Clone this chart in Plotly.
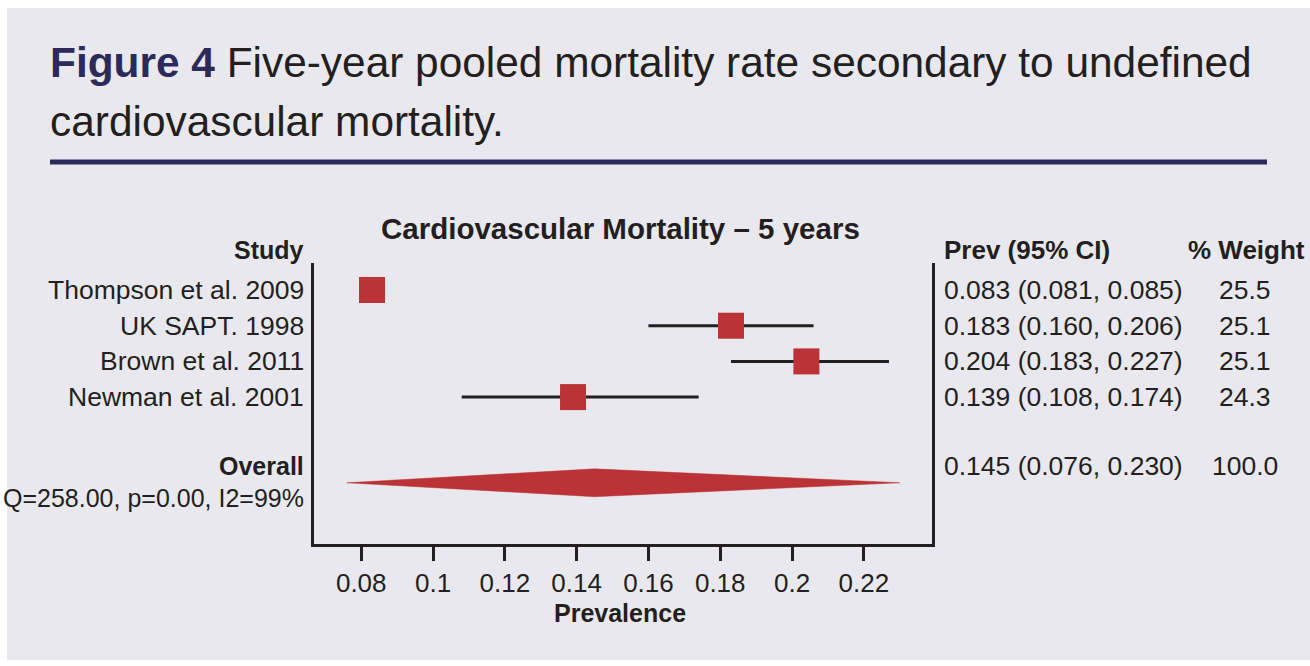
import plotly.graph_objects as go

studies = ["Thompson et al. 2009", "UK SAPT. 1998", "Brown et al. 2011", "Newman et al. 2001"]
prev = [0.083, 0.183, 0.204, 0.139]
lo = [0.081, 0.160, 0.183, 0.108]
hi = [0.085, 0.206, 0.227, 0.174]
weight = ["25.5", "25.1", "25.1", "24.3"]
overall_prev = 0.145
overall_lo = 0.076
overall_hi = 0.230
overall_weight = "100.0"
het_text = "Q=258.00, p=0.00, I2=99%"
x_ticks = [0.08, 0.10, 0.12, 0.14, 0.16, 0.18, 0.20, 0.22]
x_ticklabels = ["0.08", "0.1", "0.12", "0.14", "0.16", "0.18", "0.2", "0.22"]

W, H = 1310, 666
L, R, T, B = 314, 932, 263, 544
RED = "#bb3237"
NAVY = "#2c2a5a"
INK = "#231f20"
BG = "#e9e8ee"
FONT = "Liberation Sans, Arial, sans-serif"

rows = list(range(len(studies)))
overall_row = 5.4
overall_label_row = 4.93
het_row = 5.83


def px(x):
    return (x - L) / (R - L)


def py(y):
    return 1 - (y - T) / (B - T)


fig = go.Figure()

# confidence intervals + squares
fig.add_trace(go.Scatter(
    x=prev, y=rows, mode="markers",
    marker=dict(symbol="square", size=26, color=RED, line=dict(width=0)),
    error_x=dict(type="data", symmetric=False,
                 array=[h - p for h, p in zip(hi, prev)],
                 arrayminus=[p - l for p, l in zip(prev, lo)],
                 color=INK, thickness=3, width=0),
    hoverinfo="skip", showlegend=False,
))

# overall diamond
dh = 0.39
fig.add_trace(go.Scatter(
    x=[overall_lo, overall_prev, overall_hi, overall_prev, overall_lo],
    y=[overall_row, overall_row - dh, overall_row, overall_row + dh, overall_row],
    mode="lines", fill="toself", fillcolor=RED, line=dict(color=RED, width=0.5),
    hoverinfo="skip", showlegend=False,
))

fig.add_shape(type="line", xref="x", yref="paper", x0=overall_prev, x1=overall_prev,
              y0=0, y1=1, line=dict(color=INK, width=2.5, dash="7px,4px"), layer="below")

# background panel and rule
fig.add_shape(type="rect", xref="paper", yref="paper", x0=px(7), x1=px(1320), y0=py(8), y1=py(660),
              fillcolor=BG, line=dict(width=0), layer="below")
fig.add_shape(type="line", xref="paper", yref="paper", x0=px(50), x1=px(1267), y0=py(162), y1=py(162),
              line=dict(color=NAVY, width=5))

ann = []
ann.append(dict(x=px(48), y=py(62), xref="paper", yref="paper", xanchor="left", yanchor="middle",
                text="<b><span style='color:%s'>Figure 4</span></b> Five-year pooled mortality rate secondary to undefined" % NAVY,
                font=dict(size=42.4, color=INK, family=FONT), showarrow=False))
ann.append(dict(x=px(48), y=py(121), xref="paper", yref="paper", xanchor="left", yanchor="middle",
                text="cardiovascular mortality.",
                font=dict(size=42.4, color=INK, family=FONT), showarrow=False))
ann.append(dict(x=px(620), y=py(228), xref="paper", yref="paper", xanchor="center", yanchor="middle",
                text="<b>Cardiovascular Mortality – 5 years</b>",
                font=dict(size=29.5, color=INK, family=FONT), showarrow=False))
ann.append(dict(x=px(306), y=py(250), xref="paper", yref="paper", xanchor="right", yanchor="middle",
                text="<b>Study</b>", font=dict(size=25, color=INK, family=FONT), showarrow=False))
ann.append(dict(x=px(942), y=py(250), xref="paper", yref="paper", xanchor="left", yanchor="middle",
                text="<b>Prev (95% CI)</b>", font=dict(size=26, color=INK, family=FONT), showarrow=False))
ann.append(dict(x=px(1246), y=py(250), xref="paper", yref="paper", xanchor="center", yanchor="middle",
                text="<b>% Weight</b>", font=dict(size=26, color=INK, family=FONT), showarrow=False))

for i, s in enumerate(studies):
    ann.append(dict(x=px(306), y=rows[i], xref="paper", yref="y", xanchor="right", yanchor="middle",
                    text=s, font=dict(size=26.5, color=INK, family=FONT), showarrow=False))
    ann.append(dict(x=px(942), y=rows[i], xref="paper", yref="y", xanchor="left", yanchor="middle",
                    text="%.3f (%.3f, %.3f)" % (prev[i], lo[i], hi[i]),
                    font=dict(size=26.5, color=INK, family=FONT), showarrow=False))
    ann.append(dict(x=px(1245), y=rows[i], xref="paper", yref="y", xanchor="center", yanchor="middle",
                    text=weight[i], font=dict(size=26.5, color=INK, family=FONT), showarrow=False))

ann.append(dict(x=px(306), y=overall_label_row, xref="paper", yref="y", xanchor="right", yanchor="middle",
                text="<b>Overall</b>", font=dict(size=25, color=INK, family=FONT), showarrow=False))
ann.append(dict(x=px(306), y=het_row, xref="paper", yref="y", xanchor="right", yanchor="middle",
                text=het_text, font=dict(size=25, color=INK, family=FONT), showarrow=False))
ann.append(dict(x=px(942), y=overall_label_row, xref="paper", yref="y", xanchor="left", yanchor="middle",
                text="%.3f (%.3f, %.3f)" % (overall_prev, overall_lo, overall_hi),
                font=dict(size=26.5, color=INK, family=FONT), showarrow=False))
ann.append(dict(x=px(1245), y=overall_label_row, xref="paper", yref="y", xanchor="center", yanchor="middle",
                text=overall_weight, font=dict(size=26.5, color=INK, family=FONT), showarrow=False))
ann.append(dict(x=px(620), y=py(613), xref="paper", yref="paper", xanchor="center", yanchor="middle",
                text="<b>Prevalence</b>", font=dict(size=25, color=INK, family=FONT), showarrow=False))

x0 = 0.083 + (L - 372) / 3590
x1 = 0.083 + (R - 372) / 3590
y_top = (T - 290) / 35.7
y_bot = (B - 290) / 35.7

fig.update_layout(
    width=W, height=H,
    margin=dict(l=L, r=W - R, t=T, b=H - B, pad=0),
    paper_bgcolor="white", plot_bgcolor=BG,
    annotations=ann,
    xaxis=dict(range=[x0, x1], tickvals=x_ticks, ticktext=x_ticklabels,
               ticks="outside", ticklen=14, tickwidth=3, tickcolor=INK,
               showline=True, linewidth=3, linecolor=INK, showgrid=False, zeroline=False,
               tickfont=dict(size=26, color=INK, family=FONT)),
    yaxis=dict(range=[y_bot, y_top], showticklabels=False, ticks="",
               showline=True, mirror=True, linewidth=3, linecolor=INK,
               showgrid=False, zeroline=False),
)

fig.write_html("out.html")
